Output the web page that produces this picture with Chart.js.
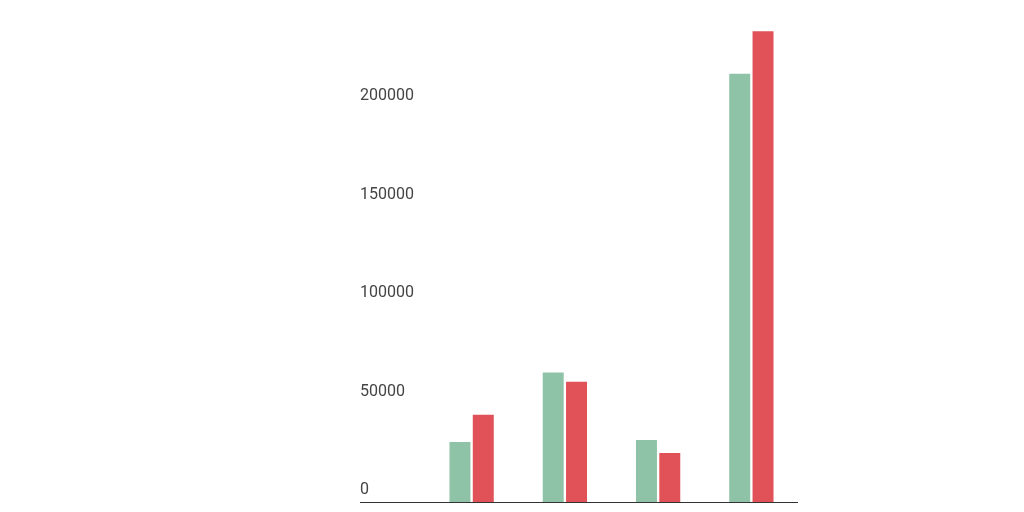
<!DOCTYPE html>
<html>
<head>
<meta charset="utf-8">
<script src="https://cdn.jsdelivr.net/npm/chart.js@4"></script>
<style>
  html, body { margin: 0; padding: 0; background: #fff; }
  #wrap { width: 1024px; height: 512px; }
</style>
</head>
<body>
<div id="wrap"><canvas id="chart"></canvas></div>
<script>
const categories = ['A', 'B', 'C', 'D'];
const seriesGreen = [30600, 65800, 31600, 217300];
const seriesRed = [44400, 61200, 25000, 238800];
const yTicks = [0, 50000, 100000, 150000, 200000];

new Chart(document.getElementById('chart').getContext('2d'), {
    type: 'bar',
    data: {
        labels: categories,
        datasets: [
            { data: seriesGreen, backgroundColor: '#8fc3a7', categoryPercentage: 0.5, barPercentage: 0.9 },
            { data: seriesRed, backgroundColor: '#e05257', categoryPercentage: 0.5, barPercentage: 0.9 }
        ]
    },
    options: {
        responsive: true,
        maintainAspectRatio: false,
        animation: false,
        layout: { padding: { left: 360, right: 226, top: 29, bottom: -8 } },
        plugins: { legend: { display: false }, tooltip: { enabled: false } },
        scales: {
            x: {
                grid: { display: false },
                border: { display: false },
                ticks: { display: false }
            },
            y: {
                min: 0,
                max: 240000,
                afterBuildTicks: (scale) => { scale.ticks = yTicks.map(v => ({ value: v })); },
                afterFit: (scale) => { scale.width = 65; },
                border: { display: false },
                grid: {
                    color: (ctx) => ctx.tick && ctx.tick.value === 0 ? '#333' : 'rgba(0,0,0,0)',
                    tickLength: 65,
                    lineWidth: 1
                },
                ticks: {
                    crossAlign: 'far',
                    labelOffset: -12,
                    padding: 0,
                    color: '#444',
                    font: { family: 'Roboto', size: 16 },
                    callback: (v) => String(v)
                }
            }
        }
    }
});
</script>
</body>
</html>
